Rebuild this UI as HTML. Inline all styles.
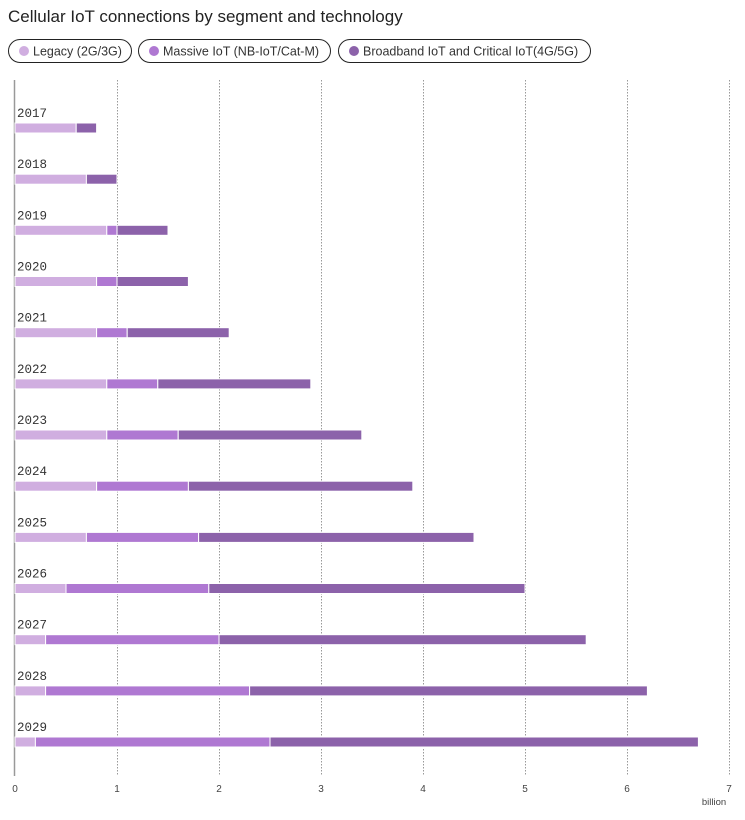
<!DOCTYPE html>
<html><head><meta charset="utf-8"><style>
body{margin:0;background:#fff;width:745px;height:815px;overflow:hidden;font-family:"Liberation Sans",sans-serif}
</style></head><body>
<svg width="745" height="815" xmlns="http://www.w3.org/2000/svg" font-family="Liberation Sans, sans-serif">
<text x="8" y="22" font-size="17" fill="#222">Cellular IoT connections by segment and technology</text>
<g font-size="12.5" fill="#333">
<rect x="8.5" y="39.5" width="123" height="23" rx="11.5" fill="none" stroke="#222"/>
<circle cx="24" cy="51" r="5" fill="#d0aee0"/><text x="33" y="55.5">Legacy (2G/3G)</text>
<rect x="138.5" y="39.5" width="192" height="23" rx="11.5" fill="none" stroke="#222"/>
<circle cx="154" cy="51" r="5" fill="#af78d2"/><text x="163" y="55.5">Massive IoT (NB-IoT/Cat-M)</text>
<rect x="338.5" y="39.5" width="252" height="23" rx="11.5" fill="none" stroke="#222"/>
<circle cx="354" cy="51" r="5" fill="#8c62aa"/><text x="363" y="55.5">Broadband IoT and Critical IoT(4G/5G)</text>
</g>
<g stroke="#999" stroke-dasharray="1.5,1.5">
<line x1="117.5" y1="80" x2="117.5" y2="775"/><line x1="219.5" y1="80" x2="219.5" y2="775"/>
<line x1="321.5" y1="80" x2="321.5" y2="775"/><line x1="423.5" y1="80" x2="423.5" y2="775"/>
<line x1="525.5" y1="80" x2="525.5" y2="775"/><line x1="627.5" y1="80" x2="627.5" y2="775"/>
<line x1="729.5" y1="80" x2="729.5" y2="775"/>
</g>
<line x1="14.5" y1="80" x2="14.5" y2="776" stroke="#999" stroke-width="1.5"/>
<g font-family="Liberation Mono, monospace" font-size="12.5" fill="#333">
<text x="17" y="117">2017</text><text x="17" y="168.2">2018</text><text x="17" y="219.3">2019</text>
<text x="17" y="270.5">2020</text><text x="17" y="321.7">2021</text><text x="17" y="372.9">2022</text>
<text x="17" y="424">2023</text><text x="17" y="475.2">2024</text><text x="17" y="526.4">2025</text>
<text x="17" y="577.5">2026</text><text x="17" y="628.7">2027</text><text x="17" y="679.9">2028</text>
<text x="17" y="731">2029</text>
</g>
<g stroke="#fff" stroke-width="1">
<g fill="#d0aee0">
<rect x="15" y="123" width="61.2" height="10"/>
<rect x="15" y="174.2" width="71.4" height="10"/>
<rect x="15" y="225.3" width="91.8" height="10"/>
<rect x="15" y="276.5" width="81.6" height="10"/>
<rect x="15" y="327.7" width="81.6" height="10"/>
<rect x="15" y="378.9" width="91.8" height="10"/>
<rect x="15" y="430" width="91.8" height="10"/>
<rect x="15" y="481.2" width="81.6" height="10"/>
<rect x="15" y="532.4" width="71.4" height="10"/>
<rect x="15" y="583.5" width="51" height="10"/>
<rect x="15" y="634.7" width="30.6" height="10"/>
<rect x="15" y="685.9" width="30.6" height="10"/>
<rect x="15" y="737" width="20.4" height="10"/>
</g>
<g fill="#af78d2">
<rect x="106.8" y="225.3" width="10.2" height="10"/>
<rect x="96.6" y="276.5" width="20.4" height="10"/>
<rect x="96.6" y="327.7" width="30.6" height="10"/>
<rect x="106.8" y="378.9" width="51" height="10"/>
<rect x="106.8" y="430" width="71.4" height="10"/>
<rect x="96.6" y="481.2" width="91.8" height="10"/>
<rect x="86.4" y="532.4" width="112.2" height="10"/>
<rect x="66" y="583.5" width="142.8" height="10"/>
<rect x="45.6" y="634.7" width="173.4" height="10"/>
<rect x="45.6" y="685.9" width="204" height="10"/>
<rect x="35.4" y="737" width="234.6" height="10"/>
</g>
<g fill="#8c62aa">
<rect x="76.2" y="123" width="20.4" height="10"/>
<rect x="86.4" y="174.2" width="30.6" height="10"/>
<rect x="117" y="225.3" width="51" height="10"/>
<rect x="117" y="276.5" width="71.4" height="10"/>
<rect x="127.2" y="327.7" width="102" height="10"/>
<rect x="157.8" y="378.9" width="153" height="10"/>
<rect x="178.2" y="430" width="183.6" height="10"/>
<rect x="188.4" y="481.2" width="224.4" height="10"/>
<rect x="198.6" y="532.4" width="275.4" height="10"/>
<rect x="208.8" y="583.5" width="316.2" height="10"/>
<rect x="219" y="634.7" width="367.2" height="10"/>
<rect x="249.6" y="685.9" width="397.8" height="10"/>
<rect x="270" y="737" width="428.4" height="10"/>
</g>
</g>
<g font-size="10" fill="#444" text-anchor="middle">
<text x="15" y="792">0</text><text x="117" y="792">1</text><text x="219" y="792">2</text><text x="321" y="792">3</text><text x="423" y="792">4</text><text x="525" y="792">5</text><text x="627" y="792">6</text><text x="729" y="792">7</text>
<text x="714" y="805" font-size="9.5">billion</text>
</g>
</svg>
</body></html>
